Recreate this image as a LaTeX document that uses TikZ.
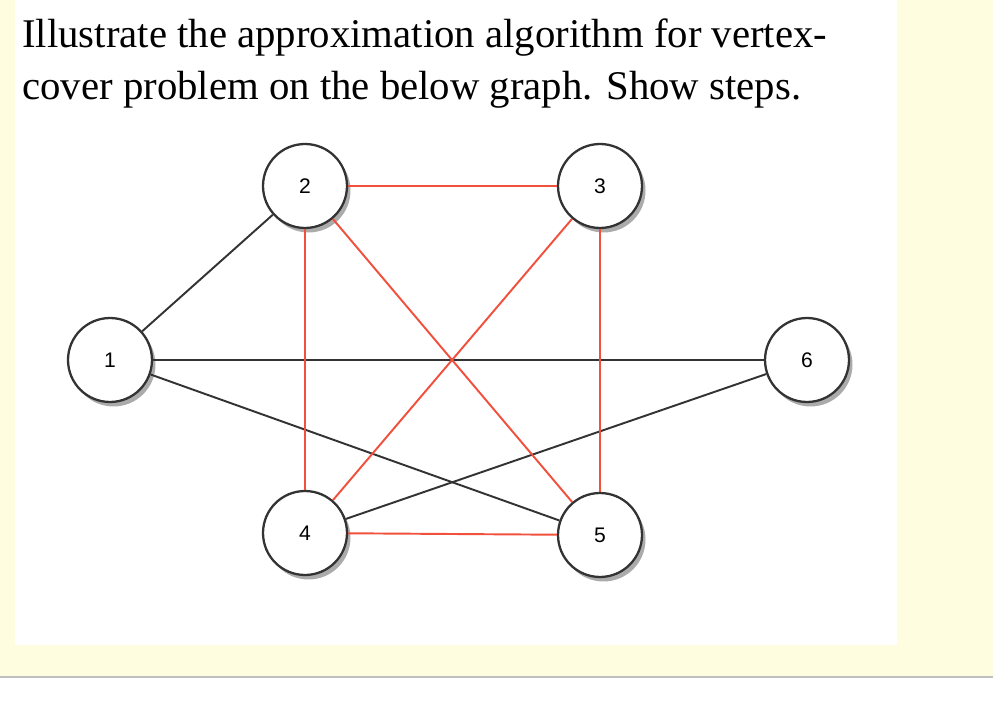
\documentclass[tikz,border=0pt]{standalone}
\usepackage{fontspec}
\setmainfont{Liberation Serif}
\setsansfont{Liberation Sans}
\usetikzlibrary{shadows}
\definecolor{paleyellow}{HTML}{FFFDE0}
\definecolor{edgered}{HTML}{F0503C}
\begin{document}
\begin{tikzpicture}[x=0.02cm,y=-0.02cm,
        vertex/.style={circle, draw=black!80, line width=1.3pt, fill=white, minimum size=1.68cm, inner sep=0pt, font=\sffamily\fontsize{12}{14}\selectfont,
            drop shadow={shadow xshift=0.07cm, shadow yshift=-0.09cm, fill=black!60, opacity=0.55}},
        redge/.style={edgered, line width=1.1pt},
        bedge/.style={black!80, line width=1.1pt}
    ]
        % Background
        \useasboundingbox (0,0) rectangle (993,712);
        \fill[paleyellow] (0,0) rectangle (993,677);
        \draw[black!25, thick] (0,677) -- (993,677);
        \fill[white] (15,0) rectangle (897,645);

        % Question text
        \node[anchor=base west, font=\fontsize{23.2}{27}\selectfont, inner sep=0pt] (q1) at (22,48) {Illustrate the approximation algorithm for vertex-};
        \node[anchor=base west, font=\fontsize{23.2}{27}\selectfont, inner sep=0pt] (q2) at (22,100) {cover problem on the below graph. Show steps.};

        % Vertices
        \node[vertex] (v1) at (110,360) {1};
        \node[vertex] (v2) at (305,186) {2};
        \node[vertex] (v3) at (600,186) {3};
        \node[vertex] (v4) at (305,533) {4};
        \node[vertex] (v5) at (600,535) {5};
        \node[vertex] (v6) at (807,360) {6};

        % Edges
        \draw[bedge] (v1) -- (v2);
        \draw[bedge] (v1) -- (v6);
        \draw[bedge] (v1) -- (v5);
        \draw[bedge] (v4) -- (v6);
        \draw[redge] (v2) -- (v3);
        \draw[redge] (v2) -- (v4);
        \draw[redge] (v2) -- (v5);
        \draw[redge] (v3) -- (v4);
        \draw[redge] (v3) -- (v5);
        \draw[redge] (v4) -- (v5);
    \end{tikzpicture}
\end{document}
